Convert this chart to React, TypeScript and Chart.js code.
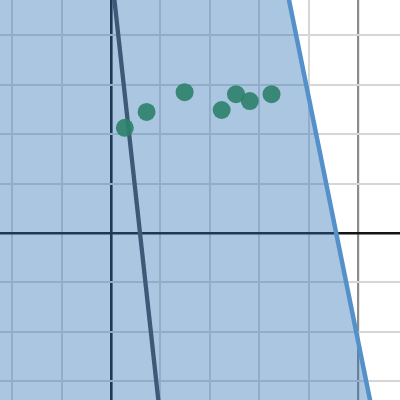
import React, { useEffect, useRef } from 'react';
import Chart from 'chart.js/auto';

// --- Datos ---

// Ventana visible (unidades de la cuadrícula)
const xRange = [-2.247, 5.85];
const yRange = [-3.381, 4.717];

// Puntos verdes
const pointsX = [0.28, 0.72, 1.49, 2.24, 2.53, 2.81, 3.25];
const pointsY = [2.13, 2.45, 2.85, 2.49, 2.81, 2.67, 2.81];

// Recta oscura (casi vertical)
const darkLineX = [0.038, 1.026];
const darkLineY = [5.0, -4.0];

// Recta azul (frontera de la región sombreada)
const blueLineX = [3.546, 5.368];
const blueLineY = [5.0, -4.0];

// Esquina superior izquierda de la región sombreada
const shadeCornerX = [-3.0];
const shadeCornerY = [5.0];

const toPoints = (xs: number[], ys: number[]) => xs.map((x, i) => ({ x, y: ys[i] }));

const gridColor = (value: number) => {
  if (Math.abs(value) < 1e-9) return '#141414';
  if (Math.abs(value - Math.round(value)) > 1e-6) return 'rgba(0,0,0,0)';
  if (Math.round(value) % 5 === 0) return '#8c8c8c';
  return '#d6d6d6';
};

const gridWidth = (value: number) => {
  if (Math.abs(value) < 1e-9) return 2.6;
  if (Math.round(value) % 5 === 0) return 2.2;
  return 2;
};

export default function App() {
  const canvasRef = useRef<HTMLCanvasElement>(null);

  useEffect(() => {
    document.body.style.margin = '0';
    const ctx = canvasRef.current?.getContext('2d');
    if (!ctx) return;

    const scaleFor = (range: number[]) => ({
      type: 'linear' as const,
      min: range[0],
      max: range[1],
      ticks: { display: false, stepSize: 1, includeBounds: false },
      grid: {
        drawTicks: false,
        color: (c: any) => gridColor(c.tick.value),
        lineWidth: (c: any) => gridWidth(c.tick.value),
      },
      border: { display: false },
    });

    const chart = new Chart(ctx, {
      type: 'scatter',
      data: {
        datasets: [
          {
            label: 'puntos',
            data: toPoints(pointsX, pointsY),
            backgroundColor: 'rgba(45,129,108,0.9)',
            borderWidth: 0,
            pointRadius: 9,
            showLine: false,
          },
          {
            label: 'frontera',
            data: toPoints(blueLineX, blueLineY),
            showLine: true,
            borderColor: '#5490c9',
            borderWidth: 4.5,
            pointRadius: 0,
            fill: false,
          },
          {
            label: 'recta',
            data: toPoints(darkLineX, darkLineY),
            showLine: true,
            borderColor: '#3e5977',
            borderWidth: 4.3,
            pointRadius: 0,
            fill: false,
          },
          {
            label: 'region',
            data: [...toPoints(shadeCornerX, shadeCornerY), ...toPoints(blueLineX, blueLineY)],
            showLine: true,
            borderWidth: 0,
            borderColor: 'rgba(0,0,0,0)',
            backgroundColor: 'rgba(45,112,179,0.4)',
            pointRadius: 0,
            fill: 'start',
          },
        ],
      },
      options: {
        animation: false,
        responsive: true,
        maintainAspectRatio: false,
        layout: { padding: 0, autoPadding: false },
        plugins: { legend: { display: false }, tooltip: { enabled: false } },
        scales: { x: scaleFor(xRange), y: scaleFor(yRange) },
      },
    });

    return () => chart.destroy();
  }, []);

  return (
    <div style={{ position: 'relative', width: 400, height: 400 }}>
      <canvas ref={canvasRef}></canvas>
    </div>
  );
}
